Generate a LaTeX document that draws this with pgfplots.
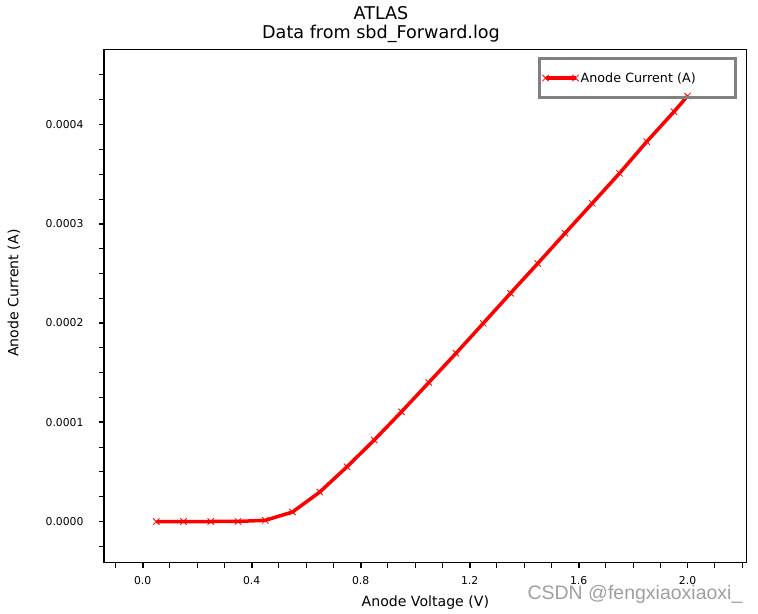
\documentclass[border=0pt]{standalone}
\usepackage{pgfplots}
\pgfplotsset{compat=1.18}
\usepackage{fontspec}
\setmainfont{DejaVu Sans}
\newfontfamily\wmfont{Liberation Sans}
\begin{document}
\begin{tikzpicture}[x=1pt,y=1pt]
\path (-104,-50.3) rectangle (654,562.7);
\begin{axis}[
  at={(0,0)}, anchor=south west,
  scale only axis, width=642.7pt, height=513.4pt,
  xmin=-0.142, xmax=2.217, ymin=-0.415e-4, ymax=4.758e-4,
  axis line style={line width=1.2pt},
  tick align=outside,
  xtick pos=left, ytick pos=left,
  xtick={0,0.4,0.8,1.2,1.6,2.0},
  minor xtick={-0.1,0.1,0.2,0.3,0.5,0.6,0.7,0.9,1.0,1.1,1.3,1.4,1.5,1.7,1.8,1.9,2.1,2.2},
  ytick={0,1e-4,2e-4,3e-4,4e-4},
  minor ytick={-0.25e-4,0.25e-4,0.5e-4,0.75e-4,1.25e-4,1.5e-4,1.75e-4,2.25e-4,2.5e-4,2.75e-4,3.25e-4,3.5e-4,3.75e-4,4.25e-4,4.5e-4},
  major tick length=5pt, minor tick length=5pt,
  major tick style={line width=1.8pt, black},
  minor tick style={line width=0.9pt, black},
  scaled y ticks=false, scaled x ticks=false,
  /pgf/number format/assume math mode=true,
  xticklabel style={yshift=-5pt, /pgf/number format/.cd, fixed, fixed zerofill, precision=1},
  yticklabel style={xshift=-12pt, /pgf/number format/.cd, fixed, fixed zerofill, precision=4},
  ticklabel style={font=\fontsize{10.8}{12}\selectfont},
  title={ATLAS\\Data from sbd\_Forward.log},
  title style={font=\fontsize{17.6}{19}\selectfont, align=center, at={(axis description cs:0.431,1)}, anchor=south, yshift=-3pt},
  xlabel={Anode Voltage (V)},
  ylabel={Anode Current (A)},
  label style={font=\fontsize{14.1}{16}\selectfont},
  xlabel style={at={(axis description cs:0.5,-0.0785)}, anchor=center},
  ylabel style={at={(axis description cs:-0.140,0.525)}, anchor=center},
  legend style={at={(axis description cs:0.675,0.985)}, anchor=north west,
    draw=gray, fill=none, line width=3pt, inner xsep=3pt, inner ysep=12pt,
    font=\fontsize{12.7}{15}\selectfont,
    nodes={text width=150pt}},
  legend cell align=left,
  legend image code/.code={\draw[#1] plot coordinates {(0pt,0pt) (30pt,0pt)};},
]
\addplot[red, line width=3.5pt, line join=round, mark=x, mark size=4.5pt,
  mark options={line width=0.8pt, solid}] coordinates {
  (0.05,0) (0.15,0) (0.25,0) (0.35,1e-7) (0.45,1.2e-6)
  (0.55,0.096e-4) (0.65,0.297e-4) (0.75,0.552e-4) (0.85,0.821e-4)
  (0.95,1.106e-4) (1.05,1.40e-4) (1.15,1.695e-4) (1.25,1.997e-4)
  (1.35,2.30e-4) (1.45,2.60e-4) (1.55,2.904e-4) (1.65,3.206e-4)
  (1.75,3.508e-4) (1.85,3.827e-4) (1.95,4.129e-4) (2.0,4.287e-4)
};
\addlegendentry{Anode Current (A)}
\end{axis}
\node[anchor=east, text=gray!75, font=\wmfont\fontsize{19.5}{20}\selectfont] at (642,-31.3) {CSDN @fengxiaoxiaoxi\_};
\end{tikzpicture}
\end{document}
